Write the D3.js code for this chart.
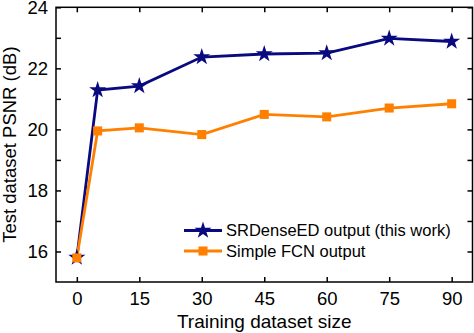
<!DOCTYPE html>
<html><head><meta charset="utf-8">
<script src="https://cdn.jsdelivr.net/npm/d3@7"></script>
<style>body{margin:0;background:#fff}svg{display:block}text{font-family:"Liberation Sans",Arial,sans-serif;fill:#000}</style>
</head><body><svg id="c" width="474" height="333"></svg>
<script>
const trainingSizes = [0, 5, 15, 30, 45, 60, 75, 90];
const srdenseValues = [15.8, 21.29, 21.42, 22.37, 22.47, 22.5, 22.98, 22.88];
const fcnValues = [15.79, 19.95, 20.05, 19.83, 20.49, 20.41, 20.7, 20.84];
const xTicks = [0, 15, 30, 45, 60, 75, 90];
const yTicks = [16, 17, 18, 19, 20, 21, 22, 23, 24];
const yLabels = [16, 18, 20, 22, 24];
const seriesNames = ["SRDenseED output (this work)", "Simple FCN output"];

const svg = d3.select("#c");
const L = 56, R = 472.5, T = 7.3, B = 282;
const x = d3.scaleLinear().domain([-5, 95]).range([L, R]);
const y = d3.scaleLinear().domain([15, 24]).range([B, T]);
const blue = "#0a0a80", orange = "#ff8000";

const tl = 5;
svg.append("g").attr("transform", `translate(0,${B})`)
  .call(d3.axisBottom(x).tickValues(xTicks).tickSize(-tl).tickPadding(10).tickFormat(d3.format("d")))
  .call(g => { g.select(".domain").remove(); g.selectAll("line").attr("stroke","#000").attr("stroke-width",1.5); g.selectAll("text").attr("font-size",18.5).attr("font-family","Liberation Sans, Arial, sans-serif"); });
svg.append("g").attr("transform", `translate(0,${T})`)
  .call(d3.axisTop(x).tickValues(xTicks).tickSize(-tl).tickFormat(""))
  .call(g => { g.select(".domain").remove(); g.selectAll("line").attr("stroke","#000").attr("stroke-width",1.5); });
svg.append("g").attr("transform", `translate(${L},0)`)
  .call(d3.axisLeft(y).tickValues(yTicks).tickSize(-tl).tickPadding(8).tickFormat(d => yLabels.includes(d) ? d : ""))
  .call(g => { g.select(".domain").remove(); g.selectAll("line").attr("stroke","#000").attr("stroke-width",1.5); g.selectAll("text").attr("font-size",18.5).attr("font-family","Liberation Sans, Arial, sans-serif"); });
svg.append("g").attr("transform", `translate(${R},0)`)
  .call(d3.axisRight(y).tickValues(yTicks).tickSize(-tl).tickFormat(""))
  .call(g => { g.select(".domain").remove(); g.selectAll("line").attr("stroke","#000").attr("stroke-width",1.5); });

svg.append("rect").attr("x", L).attr("y", T).attr("width", R - L).attr("height", B - T)
  .attr("fill", "none").attr("stroke", "#000").attr("stroke-width", 1.5);

const line = d3.line().x(d => x(d[0])).y(d => y(d[1]));
const blueData = trainingSizes.map((s, i) => [s, srdenseValues[i]]);
const orangeData = trainingSizes.map((s, i) => [s, fcnValues[i]]);

const star = d3.symbol().type(d3.symbolStar).size(90);
const sq = d3.symbol().type(d3.symbolSquare).size(82);

svg.append("path").datum(blueData).attr("d", line).attr("fill","none").attr("stroke",blue).attr("stroke-width",2.8);
svg.append("path").datum(orangeData).attr("d", line).attr("fill","none").attr("stroke",orange).attr("stroke-width",2.8);
svg.selectAll(".st").data(blueData).join("path").attr("d", star)
  .attr("transform", d => `translate(${x(d[0])},${y(d[1])})`).attr("fill", blue);
svg.selectAll(".sq").data(orangeData).join("path").attr("d", sq)
  .attr("transform", d => `translate(${x(d[0])},${y(d[1])})`).attr("fill", orange);

const leg = [{n: seriesNames[0], c: blue, s: star, y: 230.5}, {n: seriesNames[1], c: orange, s: sq, y: 251}];
leg.forEach(l => {
  svg.append("line").attr("x1",184).attr("x2",222).attr("y1",l.y).attr("y2",l.y).attr("stroke",l.c).attr("stroke-width",2.8);
  svg.append("path").attr("d", l.s).attr("transform",`translate(203,${l.y})`).attr("fill",l.c);
  svg.append("text").attr("x",226).attr("y",l.y).attr("dy","0.35em").attr("font-size",16.5).text(l.n);
});

svg.append("text").attr("x", (x(0)+x(90))/2).attr("y", 328).attr("text-anchor","middle").attr("font-size",19).text("Training dataset size");
svg.append("text").attr("transform", `translate(16,${(T+B)/2}) rotate(-90)`).attr("text-anchor","middle").attr("font-size",18.5).text("Test dataset PSNR (dB)");
</script></body></html>
